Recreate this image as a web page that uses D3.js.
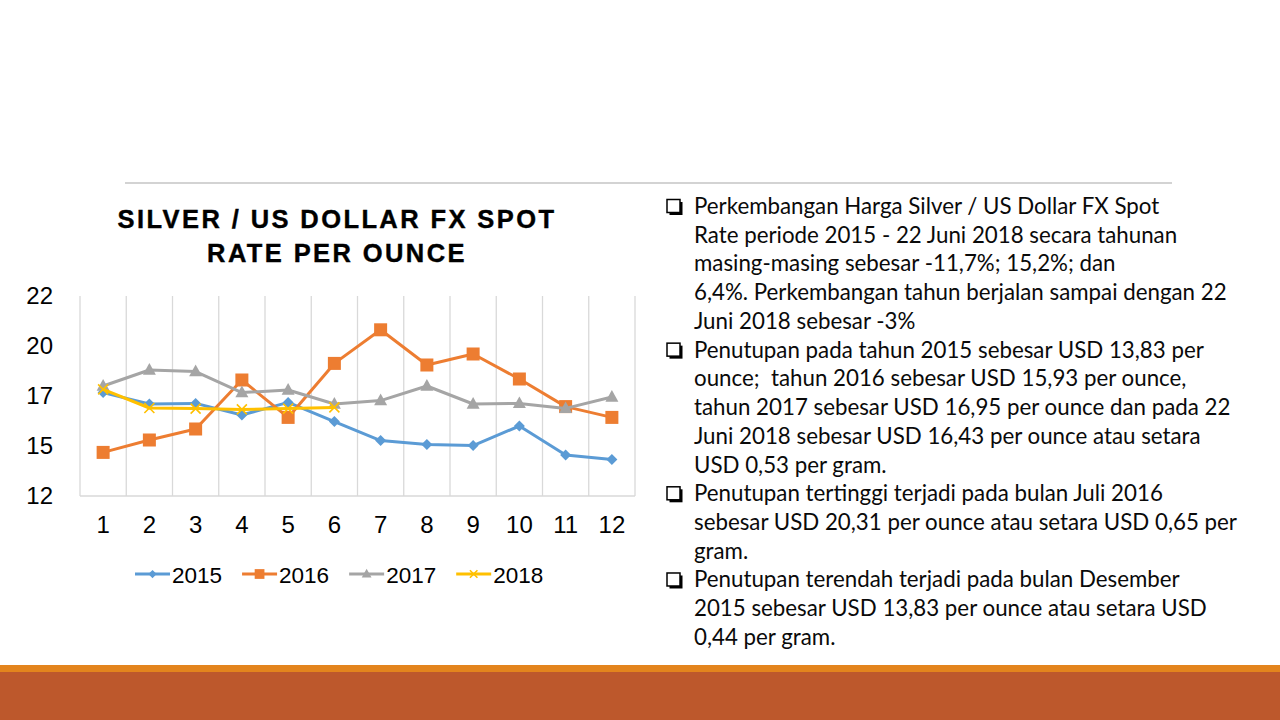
<!DOCTYPE html>
<html>
<head>
<meta charset="utf-8">
<script src="https://cdn.jsdelivr.net/npm/d3@7"></script>
<style>
  html, body { margin: 0; padding: 0; background: #fff; }
  svg { display: block; }
  .tick-lbl { font-family: "Liberation Sans", Arial, sans-serif; font-size: 24px; fill: #000; }
  .note { font-family: Lato, "Open Sans", sans-serif; font-size: 22.3px; fill: #0a0a0a; white-space: pre; }
</style>
</head>
<body>
<div id="slide"></div>
<script>
/* data */
const months = [1, 2, 3, 4, 5, 6, 7, 8, 9, 10, 11, 12];
const s2015 = [17.17, 16.6, 16.63, 16.05, 16.68, 15.72, 14.77, 14.58, 14.52, 15.5, 14.05, 13.83];
const s2016 = [14.18, 14.8, 15.35, 17.8, 15.93, 18.63, 20.31, 18.55, 19.1, 17.85, 16.47, 15.93];
const s2017 = [17.5, 18.3, 18.22, 17.17, 17.3, 16.6, 16.77, 17.5, 16.6, 16.63, 16.38, 16.95];
const s2018 = [17.33, 16.4, 16.37, 16.33, 16.37, 16.43];
const yTicks = [12, 14.5, 17, 19.5, 22];
const titleLines = ["SILVER / US DOLLAR FX SPOT", "RATE PER OUNCE"];

const notes = [
  ["Perkembangan Harga Silver / US Dollar FX Spot",
   "Rate periode 2015 - 22 Juni 2018 secara tahunan",
   "masing-masing sebesar -11,7%; 15,2%; dan",
   "6,4%. Perkembangan tahun berjalan sampai dengan 22",
   "Juni 2018 sebesar -3%"],
  ["Penutupan pada tahun 2015 sebesar USD 13,83 per",
   "ounce;  tahun 2016 sebesar USD 15,93 per ounce,",
   "tahun 2017 sebesar USD 16,95 per ounce dan pada 22",
   "Juni 2018 sebesar USD 16,43 per ounce atau setara",
   "USD 0,53 per gram."],
  ["Penutupan tertinggi terjadi pada bulan Juli 2016",
   "sebesar USD 20,31 per ounce atau setara USD 0,65 per",
   "gram."],
  ["Penutupan terendah terjadi pada bulan Desember",
   "2015 sebesar USD 13,83 per ounce atau setara USD",
   "0,44 per gram."]
];

const series = [
  { name: "2015", values: s2015, color: "#5B9BD5", marker: "diamond" },
  { name: "2016", values: s2016, color: "#ED7D31", marker: "square" },
  { name: "2017", values: s2017, color: "#A5A5A5", marker: "triangle" },
  { name: "2018", values: s2018, color: "#FFC000", marker: "cross" }
];

const W = 1280, H = 720;
const svg = d3.select("#slide").append("svg").attr("width", W).attr("height", H);

/* slide decoration */
svg.append("line").attr("x1", 125).attr("x2", 1172).attr("y1", 183).attr("y2", 183)
  .attr("stroke", "#d3d3d3").attr("stroke-width", 2);
svg.append("rect").attr("x", 0).attr("y", 665).attr("width", W).attr("height", 7).attr("fill", "#E3841D");
svg.append("rect").attr("x", 0).attr("y", 672).attr("width", W).attr("height", 48).attr("fill", "#BD582C");

/* chart */
const P = { l: 80, r: 635, t: 296, b: 496 };
const x = d3.scaleBand().domain(months).range([P.l, P.r]);
const y = d3.scaleLinear().domain([12, 22]).range([P.b, P.t]);
const cx = m => x(m) + x.bandwidth() / 2;

svg.append("g").selectAll("text").data(titleLines).join("text")
  .attr("x", 337).attr("y", (d, i) => 228 + i * 34)
  .attr("text-anchor", "middle")
  .attr("font-family", "'Liberation Sans', Arial, sans-serif")
  .attr("font-weight", "bold").attr("font-size", 25.5).attr("letter-spacing", 2.4)
  .attr("fill", "#000").attr("stroke", "#000").attr("stroke-width", 0.4).text(d => d);

/* vertical gridlines at category boundaries */
const bounds = months.map(m => x(m)).concat([P.r]);
svg.append("g").selectAll("line").data(bounds).join("line")
  .attr("x1", d => d).attr("x2", d => d).attr("y1", P.t).attr("y2", P.b)
  .attr("stroke", "#d9d9d9").attr("stroke-width", 1.3);
svg.append("line").attr("x1", P.l).attr("x2", P.r).attr("y1", P.b).attr("y2", P.b)
  .attr("stroke", "#d9d9d9").attr("stroke-width", 1.3);

/* axes labels via d3 axes, no lines */
const gy = svg.append("g").attr("transform", `translate(${P.l},0)`)
  .call(d3.axisLeft(y).tickValues(yTicks).tickFormat(d3.format(".0f")).tickSize(0).tickPadding(27));
gy.select(".domain").remove();
gy.selectAll("text").attr("class", "tick-lbl").attr("font-size", null).attr("font-family", null).attr("fill", null);

const gx = svg.append("g").attr("transform", `translate(0,${P.b})`)
  .call(d3.axisBottom(x).tickSize(0).tickPadding(20));
gx.select(".domain").remove();
gx.selectAll("text").attr("class", "tick-lbl").attr("font-size", null).attr("font-family", null).attr("fill", null);

function marker(g, type, color, px, py, s) {
  if (type === "diamond") {
    g.append("path").attr("d", `M${px},${py - s / 2}L${px + s / 2},${py}L${px},${py + s / 2}L${px - s / 2},${py}Z`)
      .attr("fill", color);
  } else if (type === "square") {
    g.append("rect").attr("x", px - s / 2).attr("y", py - s / 2).attr("width", s).attr("height", s)
      .attr("fill", color);
  } else if (type === "triangle") {
    const h = s * 0.9;
    g.append("path").attr("d", `M${px},${py - h * 0.6}L${px + s / 2},${py + h * 0.4}L${px - s / 2},${py + h * 0.4}Z`)
      .attr("fill", color);
  } else {
    const a = s / 2;
    g.append("path").attr("d", `M${px - a},${py - a}L${px + a},${py + a}M${px - a},${py + a}L${px + a},${py - a}`)
      .attr("stroke", color).attr("stroke-width", 1.6).attr("fill", "none");
  }
}
const mSize = { diamond: 11, square: 13, triangle: 13, cross: 10 };

const line = d3.line().x((d, i) => cx(months[i])).y(d => y(d));
series.forEach(s => {
  const g = svg.append("g");
  g.append("path").attr("d", line(s.values)).attr("fill", "none")
    .attr("stroke", s.color).attr("stroke-width", 3).attr("stroke-linejoin", "round");
  s.values.forEach((v, i) => marker(g, s.marker, s.color, cx(months[i]), y(v), mSize[s.marker]));
});

/* legend */
let lx = 135;
const ly = 574;
series.forEach(s => {
  const g = svg.append("g");
  g.append("line").attr("x1", lx).attr("x2", lx + 35).attr("y1", ly).attr("y2", ly)
    .attr("stroke", s.color).attr("stroke-width", 3);
  marker(g, s.marker, s.color, lx + 17.5, ly, mSize[s.marker] * 0.75);
  const t = g.append("text").attr("class", "tick-lbl").attr("x", lx + 37).attr("y", ly + 8.5)
    .style("font-size", "22.5px").text(s.name);
  lx += 37 + t.node().getComputedTextLength() + 20;
});

/* notes on the right */
const lh = 28.73;
let row = 0;
notes.forEach(par => {
  const top = 214 + row * lh;
  const b = svg.append("g");
  b.append("rect").attr("x", 669.5).attr("y", top - 12).attr("width", 13).attr("height", 13)
    .attr("fill", "#000");
  b.append("rect").attr("x", 667).attr("y", top - 14.5).attr("width", 13).attr("height", 13)
    .attr("fill", "#fff").attr("stroke", "#000").attr("stroke-width", 1.5);
  par.forEach(txt => {
    svg.append("text").attr("class", "note").attr("x", 694).attr("y", 214 + row * lh).text(txt);
    row++;
  });
});
</script>
</body>
</html>
